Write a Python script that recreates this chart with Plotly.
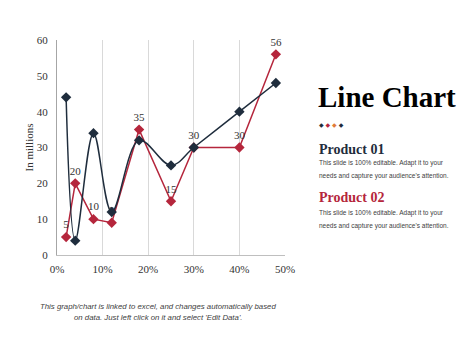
import plotly.graph_objects as go

# Data
x_pct = [0.02, 0.04, 0.08, 0.12, 0.18, 0.25, 0.30, 0.40, 0.48]
product01 = [44, 4, 34, 12, 32, 25, 30, 40, 48]
product02 = [5, 20, 10, 9, 35, 15, 30, 30, 56]
x_ticks = [0, 0.1, 0.2, 0.3, 0.4, 0.5]
y_ticks = [0, 10, 20, 30, 40, 50, 60]

OFF = 8  # page body margin
W, H = 474 - OFF, 355 - OFF
NAVY = "#1f2d3d"
RED = "#b5263c"
ORANGE = "#e07b39"
SERIF = "Liberation Serif, Times New Roman, serif"
SANS = "Liberation Sans, Arial, sans-serif"

def px(x):
    return (x - OFF) / W

def py(y):
    return 1 - (y - OFF) / H

fig = go.Figure()
fig.add_trace(go.Scatter(
    x=x_pct, y=product02, mode="lines+markers+text", name="Product 02",
    line=dict(color=RED, width=1.5),
    marker=dict(symbol="diamond", size=8, color=RED),
    text=[str(v) for v in product02], textposition="top center",
    textfont=dict(family=SERIF, size=11, color="#333333"),
    cliponaxis=False,
))
fig.add_trace(go.Scatter(
    x=x_pct, y=product01, mode="lines+markers", name="Product 01",
    line=dict(color=NAVY, width=1.5, shape="spline", smoothing=1),
    marker=dict(symbol="diamond", size=8, color=NAVY),
    cliponaxis=False,
))

fig.update_layout(
    width=W, height=H,
    margin=dict(l=0, r=0, t=0, b=0),
    paper_bgcolor="white", plot_bgcolor="white",
    showlegend=False,
    font=dict(family=SERIF, size=11, color="#333333"),
    xaxis=dict(
        domain=[px(57), px(285)], range=[0, 0.5],
        tickvals=x_ticks, tickformat=".0%",
        showgrid=True, gridcolor="#d9d9d9", gridwidth=1,
        showline=True, linecolor="#bfbfbf", linewidth=1,
        zeroline=False, ticks="", automargin=False,
        ticklabelstandoff=4,
        tickfont=dict(family=SERIF, size=11, color="#333333"),
    ),
    yaxis=dict(
        domain=[py(255), py(40)], range=[0, 60],
        tickvals=y_ticks,
        showgrid=False,
        showline=True, linecolor="#a6a6a6", linewidth=1,
        zeroline=False, ticks="", automargin=False,
        ticklabelstandoff=6,
        title=dict(text="In millions", font=dict(family=SERIF, size=11, color="#333333"), standoff=0),
        tickfont=dict(family=SERIF, size=11, color="#333333"),
    ),
)

ann = []
ann.append(dict(x=px(316), y=py(97), xref="paper", yref="paper", xanchor="left", yanchor="middle",
                text="<b>Line Chart</b>", showarrow=False,
                font=dict(family=SERIF, size=29, color="#000000")))
ann.append(dict(x=px(317), y=py(125), xref="paper", yref="paper", xanchor="left", yanchor="middle",
                text=(f"<span style='color:{NAVY}'>◆</span> <span style='color:{RED}'>◆</span> "
                      f"<span style='color:{ORANGE}'>◆</span> <span style='color:{NAVY}'>◆</span>"),
                showarrow=False, font=dict(family="DejaVu Sans", size=6)))
ann.append(dict(x=px(317), y=py(149), xref="paper", yref="paper", xanchor="left", yanchor="middle",
                text="<b>Product 01</b>", showarrow=False,
                font=dict(family=SERIF, size=14, color=NAVY)))
ann.append(dict(x=px(317), y=py(198), xref="paper", yref="paper", xanchor="left", yanchor="middle",
                text="<b>Product 02</b>", showarrow=False,
                font=dict(family=SERIF, size=14, color=RED)))
body1 = "This slide is 100% editable. Adapt it to your"
body2 = "needs and capture your audience's attention."
for yy, t in [(163, body1), (176, body2), (213, body1), (226, body2)]:
    ann.append(dict(x=px(317), y=py(yy), xref="paper", yref="paper", xanchor="left", yanchor="middle",
                    text=t, showarrow=False,
                    font=dict(family=SANS, size=6.5, color="#404040")))
for yy, t in [(306, "This graph/chart is linked to excel, and changes automatically based"),
              (317, "on data. Just left click on it and select 'Edit Data'.")]:
    ann.append(dict(x=px(158), y=py(yy), xref="paper", yref="paper", xanchor="center", yanchor="middle",
                    text=f"<i>{t}</i>", showarrow=False,
                    font=dict(family=SANS, size=7.8, color="#404040")))
fig.update_layout(annotations=ann)

fig.write_html("out.html")
